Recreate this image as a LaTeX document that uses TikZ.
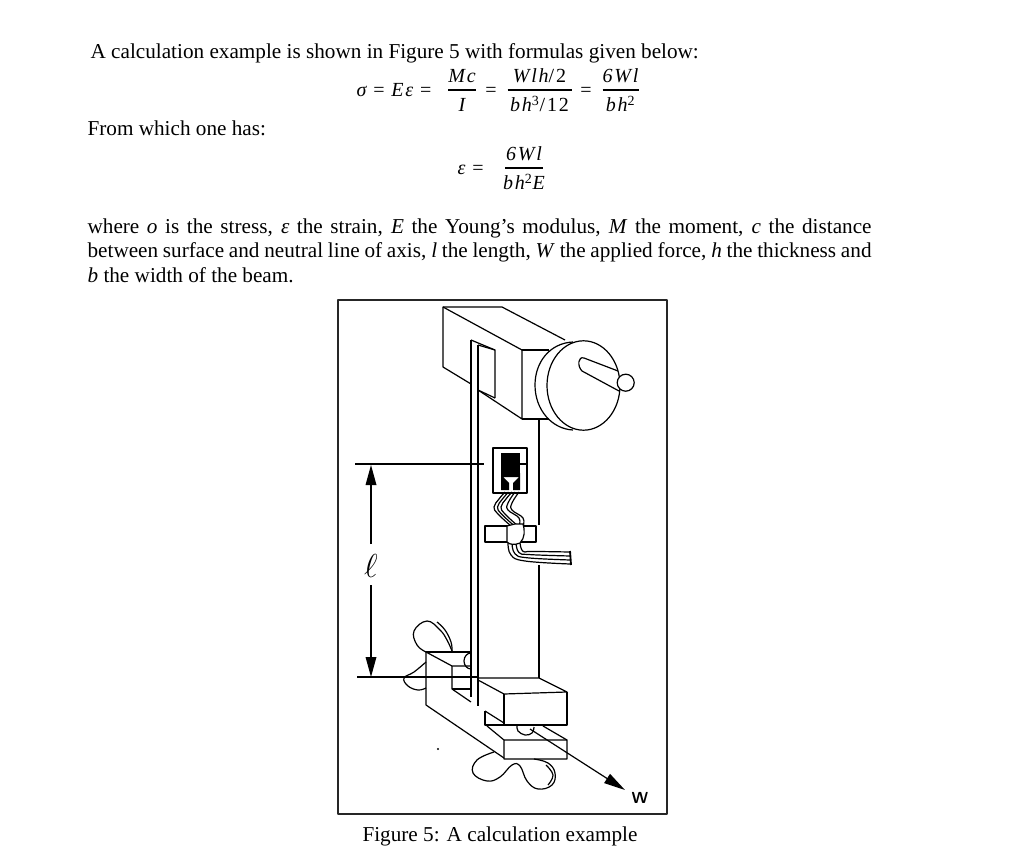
\documentclass[tikz,border=0pt]{standalone}
\usepackage{fontspec}
\setmainfont{Liberation Serif}
\newfontfamily\eqfont[LetterSpace=9]{Liberation Serif}
\usetikzlibrary{arrows.meta}

\begin{document}
\begin{tikzpicture}[x=0.75pt, y=-0.75pt, line width=0.9pt, line join=round]
    \tikzstyle{txt} = [inner sep=0, anchor=base west, font=\fontsize{15.9}{18}\selectfont]
    \tikzstyle{eqn} = [inner sep=0, anchor=base, font=\fontsize{15}{17}\selectfont\eqfont\itshape]
    \tikzstyle{dim} = [-{Triangle[width=8pt, length=15pt]}]
    \tikzstyle{blob} = [smooth, tension=0.7]
    \useasboundingbox (0, 0) rectangle (1024, 855);
    % text above the figure
    \node[txt] (intro) at (90, 59) {A calculation example is shown in Figure 5 with formulas given below:};
    \node[txt] (from) at (87, 136) {From which one has:};
    \node[eqn, anchor=base west] (lhs) at (356, 97) {σ {\upshape =} Eε {\upshape =}};
    \node[eqn] (eqa) at (491, 97) {\upshape =};
    \node[eqn] (eqb) at (586, 97) {\upshape =};
    \node[eqn, anchor=base west] (lhsb) at (457, 175) {ε {\upshape =}};
    % fractions
    \foreach \nm/\cx/\ha/\by/\num/\den in {fa/462/14/90/Mc/I, fb/539.5/32/90/Wlh\upshape{/}2/bh\textsuperscript{\upshape 3}\upshape{/}12,
      fc/620.5/18/90/6Wl/bh\textsuperscript{\upshape 2}, fd/524/19/168/6Wl/bh\textsuperscript{\upshape 2}E}
    {
      \node[eqn] (\nm num) at (\cx, \by - 7) {\num};
      \node[eqn] (\nm den) at (\cx, \by + 22) {\den};
      \draw (\cx - \ha, \by) -- (\cx + \ha, \by);
    }
    \node[txt, text width=588pt, align=justify, anchor=north west, font=\fontsize{15.9}{18.4}\selectfont] (para) at (87, 218)
      {where \emph{o} is the stress, \emph{ε} the strain, \emph{E} the Young's modulus, \emph{M} the moment, \emph{c} the distance\linebreak
       between surface and neutral line of axis, \emph{l} the length, \emph{W} the applied force, \emph{h} the thickness and\linebreak
       \emph{b} the width of the beam.};
    \node[txt, anchor=base] (caption) at (500, 841) {Figure 5: A calculation example};
    % frame
    \draw[black!85, line width=1pt] (338, 300) rectangle (667, 814);
    % top block
    \draw (471, 384) -- (443, 367) -- (443, 307) -- (502, 307) -- (565, 340);
    \draw (443, 307) -- (522, 350) -- (522, 419) -- (478, 390);
    \draw (522, 350) -- (549, 350);
    \draw (522, 419) -- (549, 419);
    \draw (471, 340) -- (495, 350) -- (495, 398);
    \draw (478, 345) -- (495, 350);
    \draw (478, 390) -- (495, 398);
    % disc and rod
    \draw (583.5, 385.5) ellipse (36.5 and 44.7);
    \draw (573, 342) .. controls (550, 343) and (535, 362) .. (535, 385)
       .. controls (535, 410) and (552, 429) .. (573, 430);
    \draw (618, 371) -- (584, 358) .. controls (578, 356) and (577, 366) .. (582, 371) -- (619, 391);
    \draw[fill=white] (625.7, 382.7) circle (8.5);
    % beam
    \draw (471, 340) -- (471, 697);
    \draw (478, 345) -- (478, 706);
    \draw (539, 419) -- (539, 525);
    \draw (539, 565) -- (539, 678);
    % gauge
    \draw (493, 448) rectangle (527, 493);
    \fill (501, 453) rectangle (520, 473);
    \fill (501, 473) -- (520, 473) -- (520, 490) -- (513, 490) -- (513, 483) -- (519, 477) -- (503, 477) -- (509, 483) -- (509, 490) -- (501, 490) -- cycle;
    % clamp
    \draw (485, 526) rectangle (536, 542);
    % wires
    \foreach \wa in {0, 3.5, 7}
    {
      \draw[blob] plot coordinates {({505 + \wa}, 492) ({499 + \wa}, 499) ({494 + \wa}, 507) ({498 + \wa}, 514) ({511 + \wa}, 526)};
    }
    \foreach \wb in {0, 4}
    {
      \draw[blob] plot coordinates {({515 + \wb}, 492) ({508 + \wb}, 503) ({508 + \wb}, 510) ({519 + \wb}, 518) ({519 + \wb}, 527)};
    }
    \foreach \wc in {0, 4, 8, 12}
    {
      \draw[blob] plot coordinates {({508 + \wc}, 543) ({511 + \wc}, {555 - 0.3 * \wc}) ({525 + \wc * 0.6}, {561 - 0.8 * \wc}) (570, {564 - \wc})};
    }
    \draw[line width=1.4pt] (570, 551) -- (571, 565);
    \draw[fill=white] (507, 526) .. controls (510, 525) and (512, 525) .. (515, 524) -- (523, 524) .. controls (525, 530) and (525, 538) .. (520, 543)
       .. controls (515, 545) and (510, 545) .. (507, 542) -- cycle;
    % dimension
    \coordinate (dimtop) at (371, 465);
    \coordinate (dimbot) at (371, 677);
    \coordinate (dimup) at (371, 544);
    \coordinate (dimdown) at (371, 585);
    \draw (355, 464) -- (484, 464);
    \draw (519, 464) -- (526, 464);
    \draw (357, 677) -- (478, 677);
    \draw[dim] (dimup) -- (dimtop);
    \draw[dim] (dimdown) -- (dimbot);
    \node[inner sep=0, font=\fontsize{24.88}{26}\selectfont] (len) at (371, 566) {$\ell$};
    % bracket
    \draw (426, 652) -- (471, 652);
    \draw (426, 652) -- (426, 705) -- (504, 758);
    \draw (426, 652) -- (452, 666) -- (471, 666);
    \draw (452, 666) -- (452, 689) -- (471, 702);
    \draw (452, 689) -- (471, 689);
    \draw (471, 669) arc (90:270:7 and 8);
    % wing nut, left
    \draw[blob] plot coordinates {(452, 651) (447, 640) (440, 630) (427, 621) (414, 631) (417, 645) (426, 652)};
    \draw[blob] plot coordinates {(437, 622) (445, 630) (451, 642) (452, 651)};
    \draw[blob] plot coordinates {(426, 662) (414, 672) (404, 678) (408, 686) (418, 690) (426, 688)};
    % lower block
    \draw (478, 680) -- (504, 694) -- (567, 692) -- (539, 678) -- (478, 678);
    \draw (504, 694) -- (504, 725) -- (567, 725) -- (567, 692);
    \draw (485, 711) -- (504, 723);
    \draw (485, 711) -- (485, 725) -- (504, 725);
    \draw (487, 726) -- (504, 740) -- (567, 740) -- (567, 759) -- (504, 759) -- (504, 740);
    \draw (543, 726) -- (567, 740);
    % foot and load
    \draw[blob] plot coordinates {(517, 726) (518, 731) (525, 735) (532, 733) (534, 727)};
    \coordinate (loadstart) at (530, 729);
    \coordinate (loadend) at (625, 790);
    \draw[-{Triangle[width=8pt, length=16pt]}] (loadstart) -- (loadend);
    \node[inner sep=0, font=\sffamily\bfseries\fontsize{12}{12}\selectfont] (load) at (640, 798) {W};
    % wing nut, bottom
    \draw[blob] plot coordinates {(494, 752) (477, 760) (473, 773) (487, 781) (500, 777) (512, 765) (520, 766) (527, 781) (538, 789) (552, 785) (555, 773) (548, 763) (534, 759)};
    \draw[blob] plot coordinates {(548, 785) (553, 775) (546, 765)};
    \fill (438, 749) circle (1.2);
\end{tikzpicture}
\end{document}
